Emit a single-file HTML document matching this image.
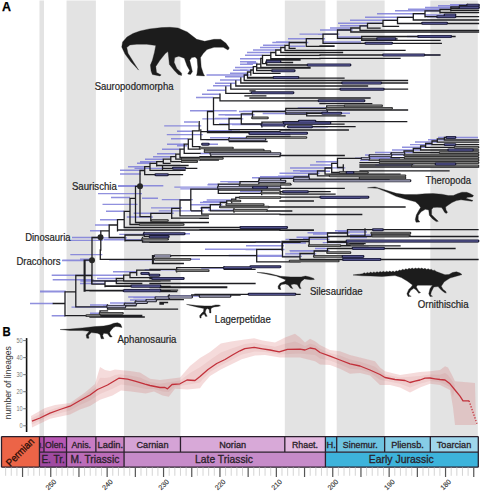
<!DOCTYPE html>
<html><head><meta charset="utf-8"><style>
html,body{margin:0;padding:0;background:#fff;width:480px;height:491px;overflow:hidden}
svg{display:block;font-family:"Liberation Sans",sans-serif}
</style></head><body>
<svg width="480" height="491" viewBox="0 0 480 491">
<rect width="480" height="491" fill="#fff"/>
<rect x="39.47" y="0.5" width="4.51" height="436" fill="#e3e3e3"/>
<rect x="66.54" y="0.5" width="29.33" height="436" fill="#e3e3e3"/>
<rect x="124.07" y="0.5" width="56.40" height="436" fill="#e3e3e3"/>
<rect x="284.81" y="0.5" width="40.61" height="436" fill="#e3e3e3"/>
<rect x="336.70" y="0.5" width="47.94" height="436" fill="#e3e3e3"/>
<rect x="430.32" y="0.5" width="47.48" height="436" fill="#e3e3e3"/>
<path d="M450.00 4.70H478.00M438.00 5.80H467.00M425.00 7.50H460.00M408.00 9.20H450.00M395.00 10.80H440.00M377.00 13.70H425.00M365.00 17.30H413.00M350.00 20.30H397.00M338.00 23.30H383.00M340.00 25.80H367.50M330.00 28.00H351.00M320.00 30.00H337.50M318.00 34.20H323.00M427.00 16.70H437.00M425.00 15.00H445.00M407.00 36.50H418.50M338.00 37.00H361.00M323.00 42.00H361.00M425.00 55.00H440.00M288.00 38.70H306.00M276.00 42.00H290.00M263.00 45.30H285.00M260.00 47.50H281.00M253.00 50.00H276.00M247.00 52.50H271.00M245.00 55.30H262.50M240.00 58.70H261.00M240.00 61.70H256.00M240.00 64.20H253.00M240.00 67.50H251.00M240.00 70.00H247.50M240.00 73.30H245.00M290.00 46.30H305.00M247.00 63.30H257.50M235.00 67.50H254.00M233.00 70.30H251.70M230.00 73.30H248.30M225.00 76.70H245.00M220.00 80.00H240.80M215.00 83.30H235.80M213.00 85.80H230.80M207.00 90.30H225.80M202.00 94.20H220.00M196.00 97.50H213.50M190.00 110.80H236.70M225.00 115.00H240.00M215.00 118.50H229.00M219.00 124.00H241.00M239.00 111.50H252.00M340.80 113.30H350.00M311.70 126.70H328.00M438.00 137.50H478.00M428.00 139.70H444.00M415.00 142.00H437.00M410.00 144.60H432.00M402.00 147.30H425.60M392.00 150.00H420.60M375.00 152.50H413.30M365.00 155.00H404.00M362.00 157.70H391.00M360.00 160.20H369.20M455.00 137.50H470.00M316.00 161.70H337.50M310.00 165.00H331.70M302.00 168.00H325.00M293.00 170.80H317.50M208.30 144.20H218.00M200.00 153.50H210.80M227.50 181.70H240.00M208.00 184.20H218.30M276.00 179.00H280.00M190.00 110.80H200.00M184.00 122.00H198.00M177.00 131.30H192.00M171.00 138.70H188.00M167.00 144.20H184.00M177.00 145.80H187.00M162.00 149.20H180.00M157.00 153.70H175.80M153.00 156.70H170.80M145.00 159.20H163.30M140.00 161.70H156.70M137.00 163.30H150.80M128.00 166.70H145.00M120.00 170.30H144.00M120.00 174.00H141.00M118.00 185.80H163.30M142.00 198.30H158.00M228.00 182.00H240.00M207.50 184.70H218.00M226.70 187.50H255.00M240.00 191.50H261.70M206.70 200.00H231.70M203.00 201.70H226.70M200.00 202.50H220.30M200.00 208.00H210.00M335.00 230.80H347.50M313.00 234.00H327.50M303.00 238.00H309.20M283.00 243.00H306.00M350.00 229.70H365.00M350.00 235.00H371.70M350.00 237.50H367.00M205.00 249.20H256.00M111.00 197.50H130.00M106.00 211.30H124.20M100.00 219.70H117.50M95.00 225.00H109.20M90.00 230.80H100.80M72.00 237.50H100.80M62.00 260.50H92.20M118.00 186.30H140.00M184.20 233.70H190.00M62.50 260.30H92.00M51.70 275.30H100.00M40.00 291.30H65.80M113.00 271.80H136.70M80.00 275.20H123.70M97.00 278.50H116.30M80.00 283.50H105.00M80.00 259.30H92.00M208.00 249.30H256.70M258.00 255.50H282.50M255.00 242.00H282.00M190.00 259.30H200.00M290.00 251.00H314.20M315.00 248.50H327.50M290.00 253.50H300.00M30.00 303.50H53.30M40.00 291.80H65.00M51.70 315.70H65.00M90.00 305.00H107.50M90.00 313.30H100.00M110.00 303.00H136.00M130.00 300.00H156.00M207.50 131.20H240.00M207.50 130.70H232.00M355.00 158.30H400.00M278.00 176.30H310.00M252.00 177.80H296.00M260.00 176.80H300.00M300.00 171.30H330.00M290.00 168.00H325.00M326.80 30.00H352.80M299.50 34.15H339.50M294.00 38.75H325.00M272.30 42.50H308.30M206.50 75.00H249.50M297.70 108.00H328.70M242.80 111.25H287.80M218.50 114.70H254.50M202.30 118.90H243.30M231.90 124.55H263.90M262.70 113.55H308.70M249.20 124.20H286.20M375.30 165.00H414.30M301.30 167.90H345.30M279.50 173.30H319.50M166.80 134.60H202.80M220.20 181.65H261.20M210.00 184.60H242.00M174.30 187.10H220.30M164.20 125.85H201.20M134.50 168.40H164.50M98.00 193.60H142.00M226.20 181.65H261.20M216.00 184.60H242.00M180.30 188.90H220.30M161.80 199.60H192.80M190.30 204.75H222.30M166.70 210.85H203.70M208.00 210.25H236.00M307.50 232.75H349.50M296.50 237.25H329.50M246.00 245.75H284.00M338.00 232.00H367.00M68.80 240.40H102.80M102.50 204.40H137.50M126.80 217.05H152.80M133.70 213.30H173.70M151.00 207.90H182.00M158.70 210.85H203.70M91.00 237.90H127.00M119.20 234.40H146.20M103.50 239.75H144.50M70.30 254.65H102.30M109.30 259.75H155.30M80.30 281.00H118.30M111.50 259.60H154.50M144.70 269.75H178.70M201.20 268.05H226.20M245.50 249.55H284.50M228.70 255.55H258.70M285.50 239.35H329.50M322.70 242.65H348.70M289.50 250.60H329.50M285.20 253.90H316.20M257.00 256.40H302.00M52.70 279.75H93.70M133.30 297.50H170.30M103.00 305.40H127.00M71.50 307.10H109.50M128.20 297.00H171.20M168.00 296.00H202.00M206.30 139.65H231.30M210.00 137.75H249.00" stroke="#7c7cd8" stroke-opacity="0.85" stroke-width="1.4" fill="none"/>
<path d="M467.50 6.80H478.50M459.50 5.50H467.50M450.80 7.00H459.50M450.80 8.70H478.50M450.80 10.30H478.50M440.00 9.50H450.80M440.00 12.50H478.50M425.00 10.80H440.00M425.00 16.70H478.50M413.30 13.70H425.00M413.30 20.00H478.50M397.50 17.30H413.30M397.50 23.50H478.50M383.00 20.30H397.50M383.00 26.30H398.50M367.50 23.30H383.00M367.50 28.20H380.00M360.00 25.80H367.50M360.00 30.40H478.50M350.80 28.00H360.00M350.80 32.00H478.50M337.50 30.00H350.80M337.50 38.30H361.70M361.70 36.50H455.00M361.70 38.80H397.00M361.70 40.30H440.00M323.00 34.20H337.50M323.00 43.30H441.30M320.00 45.80H334.00M320.00 50.30H405.00M320.00 52.50H342.50M320.00 55.00H440.00M320.00 58.30H400.00M306.30 38.70H323.00M306.30 46.30H334.00M289.20 42.50H306.30M289.20 48.30H295.00M285.00 45.30H289.20M285.00 50.30H320.00M280.80 47.50H285.00M280.80 52.50H320.00M275.80 50.00H280.80M275.80 55.30H320.00M270.80 52.50H275.80M270.80 58.70H320.00M262.50 55.30H270.80M262.50 63.70H266.70M266.70 60.00H300.00M266.70 65.00H308.00M260.80 58.30H262.50M260.80 67.50H310.00M256.70 64.20H260.80M256.70 70.50H272.50M253.30 66.70H256.70M253.30 73.30H280.00M250.80 70.00H253.30M247.50 72.00H250.80M247.50 77.50H274.00M244.20 75.00H247.50M265.80 62.50H292.50M257.50 68.00H310.00M247.50 78.20H344.00M244.20 80.50H407.50M240.80 83.00H407.50M235.80 86.00H367.50M230.80 89.20H407.50M250.00 90.80H255.00M225.80 93.30H286.70M245.00 95.80H265.80M250.00 98.00H370.00M220.00 100.80H364.00M213.50 97.80H220.00M207.50 111.50H213.50M320.00 103.70H371.70M326.70 110.00H407.50M213.50 124.60H229.00M286.30 108.30H326.70M326.70 105.80H345.00M285.80 114.20H306.70M252.50 111.50H286.30M229.00 118.50H241.30M241.30 113.80H252.50M241.30 124.00H261.90M261.90 122.20H290.00M229.00 129.70H290.00M207.50 132.50H249.70M286.00 108.30H326.70M326.70 108.00H390.80M306.70 113.30H340.80M306.70 115.80H345.00M283.00 121.70H406.70M284.20 124.20H344.00M288.30 126.70H355.00M280.00 130.00H348.30M444.40 137.50H446.90M444.40 140.00H478.50M437.30 138.80H444.40M437.30 142.20H478.50M432.00 141.00H437.30M432.00 144.60H478.50M425.60 143.50H432.00M425.60 147.30H478.50M420.60 146.00H425.60M420.60 150.00H478.50M413.30 148.50H420.60M413.30 152.50H478.50M404.00 151.00H413.30M404.00 155.00H478.50M391.00 153.50H404.00M391.00 157.70H478.50M369.20 156.00H391.00M369.20 160.20H478.50M360.00 162.70H478.50M360.00 165.00H412.30M360.00 167.00H478.50M360.00 170.80H449.00M360.00 180.30H389.00M280.00 155.50H344.20M337.50 158.30H369.20M331.70 163.30H337.50M337.50 167.50H343.30M325.00 168.00H331.70M317.50 170.80H325.00M308.70 174.20H317.50M294.20 177.00H308.70M331.70 172.50H367.50M325.00 174.20H400.00M317.50 175.80H405.00M308.70 179.20H389.00M280.00 182.50H285.00M280.00 184.70H291.00M280.00 188.30H344.20M280.00 191.70H330.00M280.00 194.20H335.00M280.00 197.20H368.00M200.80 131.70H280.00M200.00 156.70H280.00M200.00 160.00H218.30M259.20 178.30H294.20M240.00 181.70H259.20M218.30 184.20H240.00M218.30 190.00H280.00M192.50 130.80H199.20M192.50 146.70H200.00M188.30 139.20H192.50M188.30 149.20H200.00M184.20 144.20H188.30M184.20 153.30H200.00M180.00 149.20H184.20M180.00 157.50H200.00M175.80 154.20H180.00M175.80 159.20H200.00M170.80 156.70H175.80M170.80 161.70H196.70M163.30 159.20H170.80M163.30 163.30H170.00M156.70 161.70H163.30M156.70 165.50H188.00M150.00 163.30H156.70M150.00 170.30H185.00M144.70 166.70H150.00M144.70 174.70H182.50M162.50 168.30H196.70M140.00 170.50H144.70M218.30 193.30H261.70M190.80 189.20H218.30M235.80 197.50H280.00M231.70 199.20H235.80M226.70 200.80H231.70M220.30 202.50H226.70M210.30 204.70H220.30M201.70 207.50H210.30M210.30 210.80H234.00M201.70 214.20H280.00M200.00 215.80H207.50M200.00 218.30H208.30M200.00 222.50H208.30M200.00 227.50H280.00M200.00 229.70H280.00M280.00 201.00H313.30M268.30 207.00H405.00M266.70 211.00H291.70M280.00 214.50H361.70M280.00 230.30H313.30M347.50 229.70H478.00M347.50 235.80H365.00M327.50 233.00H347.50M327.50 241.50H478.00M309.20 237.50H327.50M309.20 245.80H400.00M282.00 241.50H309.20M371.70 235.00H410.00M350.00 243.70H365.00M100.80 230.80H109.20M109.20 225.00H117.50M109.20 237.50H125.00M117.50 219.70H124.20M117.50 230.00H313.30M124.20 211.30H130.00M124.20 227.50H280.00M130.00 198.30H135.50M130.00 224.50H183.30M135.50 186.30H140.00M135.50 222.50H208.30M140.00 216.70H150.80M150.80 213.30H171.70M150.80 220.50H167.50M171.70 208.30H180.00M171.70 218.10H208.30M180.00 200.00H190.80M180.00 215.80H208.30M191.70 210.80H201.70M125.00 235.00H144.20M125.00 240.50H142.50M144.20 236.30H167.50M142.50 242.00H280.00M92.50 237.50H100.80M100.30 259.30H153.30M153.30 256.00H170.00M153.30 263.50H175.00M85.00 260.20H92.00M92.00 284.20H105.00M85.00 290.50H125.00M136.70 270.20H160.00M130.00 272.70H136.70M130.00 277.70H160.00M123.70 275.20H130.00M123.70 281.00H160.00M116.30 278.50H123.70M116.30 283.50H141.70M105.00 281.00H116.30M105.00 286.00H160.00M150.00 239.30H168.30M150.00 242.30H255.00M152.50 255.70H256.70M152.50 263.50H183.30M176.70 267.70H224.20M150.00 269.30H176.70M224.20 269.30H255.00M150.00 278.50H183.30M150.00 283.50H255.00M150.00 286.80H226.70M150.00 290.20H177.50M195.00 294.30H300.00M256.70 249.30H282.50M256.70 261.80H300.00M282.50 242.30H300.00M282.50 256.80H300.00M327.50 236.50H478.00M327.50 242.30H346.70M309.20 237.70H327.50M309.20 245.70H350.00M346.70 241.00H478.00M346.70 244.00H363.30M290.00 239.70H309.20M327.50 248.50H455.00M327.50 252.70H350.00M314.20 251.00H327.50M314.20 256.30H343.30M300.00 253.50H314.20M300.00 259.50H478.00M290.00 261.00H338.30M75.80 275.50H92.00M75.80 306.80H107.50M65.00 291.80H75.80M65.00 315.70H100.00M53.30 303.50H65.00M92.50 280.80H170.00M105.00 286.30H170.00M90.00 290.80H170.00M168.30 297.50H169.20M155.80 299.50H168.30M146.70 301.70H155.80M135.80 303.30H146.70M125.00 305.80H135.80M107.50 307.50H125.00M107.50 309.20H177.50M100.00 310.80H107.50M90.00 315.50H141.70M90.00 317.00H144.20M160.00 283.70H240.00M160.00 287.50H226.70M160.00 291.70H176.70M191.70 295.00H240.00M160.00 299.70H183.30M160.00 302.50H167.50M160.00 304.00H163.30M200.80 139.60H229.30M229.30 141.50H267.00M247.00 136.50H290.00M467.50 4.50V7.00M459.50 5.50V8.50M450.80 7.00V10.50M440.00 9.50V12.80M425.00 10.80V16.80M413.30 13.70V20.00M397.50 17.30V23.50M383.00 20.30V26.30M367.50 23.30V28.20M360.00 25.80V30.40M350.80 28.00V32.00M337.50 30.00V38.30M323.00 34.20V43.30M361.70 36.50V40.30M306.30 38.70V46.30M289.20 42.50V48.30M285.00 45.30V50.30M280.80 47.50V52.50M275.80 50.00V55.30M270.80 52.50V58.70M262.50 55.30V63.70M266.70 60.00V65.00M260.80 58.30V67.50M256.70 64.20V70.50M253.30 66.70V73.30M250.80 70.00V75.00M247.50 72.00V78.00M244.20 75.00V80.00M240.80 78.00V83.00M235.80 81.00V86.00M230.80 84.00V89.20M225.80 87.00V93.30M220.00 94.20V100.80M213.50 97.80V124.60M207.50 111.50V132.50M326.70 106.00V110.00M285.80 108.30V114.20M252.50 111.50V117.90M229.00 118.50V129.70M241.30 113.80V124.00M261.90 122.20V126.90M306.70 111.30V115.80M284.20 121.70V126.70M444.40 137.50V140.00M437.30 138.80V142.20M432.00 141.00V144.60M425.60 143.50V147.30M420.60 146.00V150.00M413.30 148.50V152.50M404.00 151.00V155.00M391.00 153.50V157.70M369.20 156.00V160.20M412.30 163.50V166.50M337.50 158.30V167.50M343.30 165.00V170.80M331.70 163.30V172.50M325.00 168.00V174.20M317.50 170.80V175.80M308.70 174.20V179.20M294.20 177.00V180.80M200.80 130.00V139.20M210.80 151.70V156.70M259.20 178.30V185.00M240.00 181.70V187.50M218.30 184.20V190.00M199.20 121.70V130.00M192.50 130.80V146.70M188.30 139.20V149.20M184.20 144.20V153.30M180.00 149.20V157.50M175.80 154.20V159.20M170.80 156.70V161.70M163.30 159.20V163.30M156.70 161.70V165.80M150.00 163.30V170.30M144.70 166.70V174.70M162.50 166.50V170.30M140.00 170.50V216.70M259.20 178.30V185.00M240.00 181.70V187.50M218.30 184.50V193.30M190.80 189.20V210.00M261.70 191.50V194.50M235.80 197.50V200.80M231.70 199.20V202.50M226.70 200.80V205.00M220.30 202.50V207.00M210.30 204.70V210.80M201.70 207.50V214.20M234.00 208.50V212.00M347.50 229.70V235.80M327.50 233.00V241.50M309.20 237.50V245.80M282.00 241.50V250.00M365.00 229.00V235.00M371.70 233.00V236.00M100.80 230.80V250.00M109.20 225.00V237.50M117.50 219.70V230.80M124.20 211.30V227.50M130.00 198.30V224.20M135.50 186.30V222.50M150.80 213.30V220.80M171.70 208.30V218.30M180.00 200.00V215.80M201.70 207.50V214.20M125.00 235.00V240.80M144.20 232.50V236.30M142.50 237.50V242.00M100.30 250.00V259.30M153.30 256.00V263.50M92.00 237.30V284.20M85.00 260.20V291.00M136.70 270.20V275.20M130.00 272.70V277.70M123.70 275.20V281.00M116.30 278.50V283.50M105.00 281.00V286.00M152.50 255.70V263.50M176.70 267.70V271.80M224.20 266.80V269.30M282.50 242.30V256.80M256.70 249.30V261.80M327.50 236.00V242.70M309.20 237.70V246.00M346.70 241.00V244.30M327.50 248.50V252.70M314.20 251.00V256.80M300.00 253.50V259.30M75.80 275.50V306.80M84.20 260.20V291.00M91.70 276.00V283.50M65.00 291.80V315.80M105.00 281.70V286.70M168.30 295.80V299.20M155.80 297.50V301.70M146.70 299.70V303.30M135.80 300.80V305.80M125.00 303.30V307.50M107.50 305.00V309.20M100.00 310.80V315.80M169.20 295.00V299.00M200.00 295.00V297.00M229.30 137.80V141.50M247.00 136.50V139.00" stroke="#1e1e22" stroke-width="1.3" stroke-linecap="square" fill="none"/>
<path d="M345.00 105.80H381.70M326.70 108.30H391.70M252.50 117.90H267.50M360.00 172.50H367.50M360.00 178.00H405.00M412.30 165.80H478.00M259.20 184.20H290.00M200.00 148.00H232.50M205.00 150.00H263.30M205.00 151.70H270.00M200.00 158.30H222.50M240.00 185.20H280.00M182.00 159.20H200.00M182.00 161.70H196.70M260.00 183.00H280.00M261.70 193.00H280.00M240.00 197.50H280.00M226.70 204.70H263.30M220.30 207.00H268.30M234.00 210.30H266.70M231.70 201.00H240.00M371.70 233.00H410.00M140.00 224.50H183.30M142.50 239.20H167.50M152.00 220.50H167.50M155.00 259.30H190.00M176.70 270.70H208.30M309.20 245.70H340.00M327.50 252.70H350.00M314.20 256.30H343.30M290.00 261.00H338.30M372.50 236.00H408.70M86.70 315.70H100.00M100.00 313.30H122.50M247.00 137.50H306.00M405.00 155.00H478.00M405.00 157.70H478.00M380.00 160.20H478.00M380.00 162.70H478.00M440.00 152.50H478.00M455.00 147.30H478.00M340.00 172.50H367.50M330.00 175.80H405.00" stroke="#333" stroke-width="2.7" stroke-linecap="round" fill="none"/>
<path d="M345.00 105.80H381.70M326.70 108.30H391.70M252.50 117.90H267.50M360.00 172.50H367.50M360.00 178.00H405.00M412.30 165.80H478.00M259.20 184.20H290.00M200.00 148.00H232.50M205.00 150.00H263.30M205.00 151.70H270.00M200.00 158.30H222.50M240.00 185.20H280.00M182.00 159.20H200.00M182.00 161.70H196.70M260.00 183.00H280.00M261.70 193.00H280.00M240.00 197.50H280.00M226.70 204.70H263.30M220.30 207.00H268.30M234.00 210.30H266.70M231.70 201.00H240.00M371.70 233.00H410.00M140.00 224.50H183.30M142.50 239.20H167.50M152.00 220.50H167.50M155.00 259.30H190.00M176.70 270.70H208.30M309.20 245.70H340.00M327.50 252.70H350.00M314.20 256.30H343.30M290.00 261.00H338.30M372.50 236.00H408.70M86.70 315.70H100.00M100.00 313.30H122.50M247.00 137.50H306.00M405.00 155.00H478.00M405.00 157.70H478.00M380.00 160.20H478.00M380.00 162.70H478.00M440.00 152.50H478.00M455.00 147.30H478.00M340.00 172.50H367.50M330.00 175.80H405.00" stroke="#7a7a7a" stroke-width="1.2" fill="none"/>
<path d="M294.20 180.80H410.00M259.20 181.30H285.00M210.80 153.80H280.00M218.30 187.50H280.00M260.00 179.50H280.00M286.00 111.30H326.70M392.00 153.50H404.00M370.00 155.50H391.00M362.00 158.50H369.00M155.00 256.00H170.00M107.50 306.50H125.00M200.00 296.20H230.00M169.20 297.00H191.70M229.30 139.50H265.00M155.80 298.00H168.30M146.70 300.50H155.80M135.80 302.30H146.70M125.00 304.30H135.80M294.20 178.50H308.70" stroke="#2a2a35" stroke-width="2.9" stroke-linecap="round" fill="none"/>
<path d="M294.20 180.80H410.00M259.20 181.30H285.00M210.80 153.80H280.00M218.30 187.50H280.00M260.00 179.50H280.00M286.00 111.30H326.70M392.00 153.50H404.00M370.00 155.50H391.00M362.00 158.50H369.00M155.00 256.00H170.00M107.50 306.50H125.00M200.00 296.20H230.00M169.20 297.00H191.70M229.30 139.50H265.00M155.80 298.00H168.30M146.70 300.50H155.80M135.80 302.30H146.70M125.00 304.30H135.80M294.20 178.50H308.70" stroke="#a9a9c4" stroke-width="1.3" fill="none"/>
<path d="M467.50 5.20H478.50M460.00 7.50H478.50M437.50 16.70H455.00M445.00 15.00H455.00M422.50 23.30H446.70M418.50 36.50H450.80M377.50 38.80H395.00M365.80 43.30H391.70M383.50 55.00H424.00M320.00 65.00H350.00M308.00 65.00H350.00M272.50 70.80H294.20M274.00 77.50H298.00M267.00 61.50H280.00M342.50 83.00H380.80M340.80 89.20H383.30M319.00 100.80H364.00M322.50 113.30H340.80M261.90 125.00H284.40M249.70 133.50H290.00M299.20 121.30H315.00M284.20 123.00H330.00M288.30 126.70H311.70M280.00 133.30H306.70M446.90 137.50H455.00M445.00 144.60H455.00M448.70 150.00H472.50M436.00 164.00H455.00M283.30 191.70H307.50M321.70 197.50H360.00M347.00 172.50H353.00M250.00 133.00H280.00M202.50 144.20H208.30M173.30 168.30H185.00M155.80 174.70H167.50M253.30 187.50H266.70M240.80 227.50H280.00M280.00 227.50H286.70M320.80 197.20H368.00M373.30 229.70H382.50M347.00 241.00H478.00M353.00 248.30H368.00M144.20 233.70H184.20M141.70 273.50H148.30M131.70 286.00H160.00M125.00 290.50H160.00M150.00 236.80H168.30M224.20 267.70H250.80M250.80 266.80H280.00M152.50 278.50H183.30M150.00 290.20H160.00M249.00 294.30H295.00M150.00 275.20H159.00M428.70 241.00H478.00M353.30 248.50H383.70M343.30 259.50H380.00M343.00 256.50H363.00M131.70 286.30H160.00M124.00 290.80H160.00M252.00 92.80H293.00" stroke="#1c1c38" stroke-width="2.9" stroke-linecap="round" fill="none"/>
<path d="M467.50 5.20H478.50M460.00 7.50H478.50M437.50 16.70H455.00M445.00 15.00H455.00M422.50 23.30H446.70M418.50 36.50H450.80M377.50 38.80H395.00M365.80 43.30H391.70M383.50 55.00H424.00M320.00 65.00H350.00M308.00 65.00H350.00M272.50 70.80H294.20M274.00 77.50H298.00M267.00 61.50H280.00M342.50 83.00H380.80M340.80 89.20H383.30M319.00 100.80H364.00M322.50 113.30H340.80M261.90 125.00H284.40M249.70 133.50H290.00M299.20 121.30H315.00M284.20 123.00H330.00M288.30 126.70H311.70M280.00 133.30H306.70M446.90 137.50H455.00M445.00 144.60H455.00M448.70 150.00H472.50M436.00 164.00H455.00M283.30 191.70H307.50M321.70 197.50H360.00M347.00 172.50H353.00M250.00 133.00H280.00M202.50 144.20H208.30M173.30 168.30H185.00M155.80 174.70H167.50M253.30 187.50H266.70M240.80 227.50H280.00M280.00 227.50H286.70M320.80 197.20H368.00M373.30 229.70H382.50M347.00 241.00H478.00M353.00 248.30H368.00M144.20 233.70H184.20M141.70 273.50H148.30M131.70 286.00H160.00M125.00 290.50H160.00M150.00 236.80H168.30M224.20 267.70H250.80M250.80 266.80H280.00M152.50 278.50H183.30M150.00 290.20H160.00M249.00 294.30H295.00M150.00 275.20H159.00M428.70 241.00H478.00M353.30 248.50H383.70M343.30 259.50H380.00M343.00 256.50H363.00M131.70 286.30H160.00M124.00 290.80H160.00M252.00 92.80H293.00" stroke="#50508a" stroke-width="1.3" fill="none"/>
<g fill="#262626"><circle cx="140" cy="186.3" r="3"/><circle cx="100.5" cy="237.3" r="3"/><circle cx="92" cy="260.2" r="3"/></g>
<rect x="1.50" y="436.60" width="37.97" height="30.60" fill="#ec6447"/>
<rect x="39.47" y="436.60" width="4.51" height="15.60" fill="#b04ca6"/>
<rect x="43.98" y="436.60" width="22.56" height="15.60" fill="#b856b4"/>
<rect x="66.54" y="436.60" width="29.33" height="15.60" fill="#c77cc4"/>
<rect x="95.87" y="436.60" width="28.20" height="15.60" fill="#cc86c4"/>
<rect x="124.07" y="436.60" width="56.40" height="15.60" fill="#d5a3d6"/>
<rect x="180.47" y="436.60" width="104.34" height="15.60" fill="#d8a9d8"/>
<rect x="284.81" y="436.60" width="40.61" height="15.60" fill="#e3bae0"/>
<rect x="325.42" y="436.60" width="11.28" height="15.60" fill="#5cbde0"/>
<rect x="336.70" y="436.60" width="47.94" height="15.60" fill="#6ec3e0"/>
<rect x="384.64" y="436.60" width="45.68" height="15.60" fill="#86cde6"/>
<rect x="430.32" y="436.60" width="47.98" height="15.60" fill="#9fd6eb"/>
<rect x="39.47" y="452.20" width="27.07" height="15.00" fill="#a04aa2"/>
<rect x="66.54" y="452.20" width="57.53" height="15.00" fill="#bb6cb9"/>
<rect x="124.07" y="452.20" width="201.35" height="15.00" fill="#c68bc9"/>
<rect x="325.42" y="452.20" width="152.88" height="15.00" fill="#3db3db"/>
<path d="M1.5 436.6H478.3M1.5 467.2H478.3M39.47 452.2H478.3M1.5 436.6V467.2M478.3 436.6V467.2M39.47 436.6V452.2M43.98 436.6V452.2M66.54 436.6V452.2M95.87 436.6V452.2M124.07 436.6V452.2M180.47 436.6V452.2M284.81 436.6V452.2M325.42 436.6V452.2M336.70 436.6V452.2M384.64 436.6V452.2M430.32 436.6V452.2M39.47 452.2V467.2M66.54 452.2V467.2M124.07 452.2V467.2M325.42 452.2V467.2" stroke="#2a1f2c" stroke-width="1.3" fill="none"/>
<text x="39.50" y="447.60" font-size="7.5" fill="#2a1f2a" textLength="3.50" lengthAdjust="spacingAndGlyphs" stroke="#2a1f2a" stroke-width="0.3">I.</text>
<text x="45.10" y="447.60" font-size="8.6" fill="#2a1f2a" textLength="20.70" lengthAdjust="spacingAndGlyphs" stroke="#2a1f2a" stroke-width="0.3">Olen.</text>
<text x="71.40" y="447.60" font-size="8.6" fill="#2a1f2a" textLength="19.70" lengthAdjust="spacingAndGlyphs" stroke="#2a1f2a" stroke-width="0.3">Anis.</text>
<text x="97.60" y="447.60" font-size="8.6" fill="#2a1f2a" textLength="25.40" lengthAdjust="spacingAndGlyphs" stroke="#2a1f2a" stroke-width="0.3">Ladin.</text>
<text x="136.50" y="447.60" font-size="8.6" fill="#2a1f2a" textLength="32.00" lengthAdjust="spacingAndGlyphs" stroke="#2a1f2a" stroke-width="0.3">Carnian</text>
<text x="219.20" y="447.60" font-size="8.6" fill="#2a1f2a" textLength="26.90" lengthAdjust="spacingAndGlyphs" stroke="#2a1f2a" stroke-width="0.3">Norian</text>
<text x="292.00" y="447.60" font-size="8.6" fill="#2a1f2a" textLength="26.00" lengthAdjust="spacingAndGlyphs" stroke="#2a1f2a" stroke-width="0.3">Rhaet.</text>
<text x="326.50" y="447.60" font-size="8.6" fill="#2a1f2a" textLength="9.30" lengthAdjust="spacingAndGlyphs" stroke="#2a1f2a" stroke-width="0.3">H.</text>
<text x="342.80" y="447.60" font-size="8.6" fill="#2a1f2a" textLength="34.90" lengthAdjust="spacingAndGlyphs" stroke="#2a1f2a" stroke-width="0.3">Sinemur.</text>
<text x="391.20" y="447.60" font-size="8.6" fill="#2a1f2a" textLength="32.60" lengthAdjust="spacingAndGlyphs" stroke="#2a1f2a" stroke-width="0.3">Pliensb.</text>
<text x="436.80" y="447.60" font-size="8.6" fill="#2a1f2a" textLength="34.40" lengthAdjust="spacingAndGlyphs" stroke="#2a1f2a" stroke-width="0.3">Toarcian</text>
<text x="41.40" y="463.20" font-size="10.4" fill="#2a1f2a" textLength="23.50" lengthAdjust="spacingAndGlyphs" stroke="#2a1f2a" stroke-width="0.3">E. Tr.</text>
<text x="70.50" y="463.20" font-size="10.4" fill="#2a1f2a" textLength="48.80" lengthAdjust="spacingAndGlyphs" stroke="#2a1f2a" stroke-width="0.3">M. Triassic</text>
<text x="195.10" y="463.20" font-size="10.4" fill="#2a1f2a" textLength="57.90" lengthAdjust="spacingAndGlyphs" stroke="#2a1f2a" stroke-width="0.3">Late Triassic</text>
<text x="368.80" y="463.20" font-size="10.4" fill="#2a1f2a" textLength="65.00" lengthAdjust="spacingAndGlyphs" stroke="#2a1f2a" stroke-width="0.3">Early Jurassic</text>
<text x="0" y="0" font-size="10.4" text-anchor="middle" fill="#2a0c06" stroke="#2a0c06" stroke-width="0.3" textLength="35" lengthAdjust="spacingAndGlyphs" transform="translate(22.6 454.6) rotate(-45)">Permian</text>
<path d="M5.63 467.5V475.8M11.27 467.5V475.8M16.91 467.5V475.8M28.19 467.5V475.8M33.83 467.5V475.8M39.47 467.5V475.8M45.11 467.5V475.8M56.39 467.5V475.8M62.03 467.5V475.8M67.67 467.5V475.8M73.31 467.5V475.8M84.59 467.5V475.8M90.23 467.5V475.8M95.87 467.5V475.8M101.51 467.5V475.8M112.79 467.5V475.8M118.43 467.5V475.8M124.07 467.5V475.8M129.71 467.5V475.8M140.99 467.5V475.8M146.63 467.5V475.8M152.27 467.5V475.8M157.91 467.5V475.8M169.19 467.5V475.8M174.83 467.5V475.8M180.47 467.5V475.8M186.11 467.5V475.8M197.39 467.5V475.8M203.03 467.5V475.8M208.67 467.5V475.8M214.31 467.5V475.8M225.59 467.5V475.8M231.23 467.5V475.8M236.87 467.5V475.8M242.51 467.5V475.8M253.79 467.5V475.8M259.43 467.5V475.8M265.07 467.5V475.8M270.71 467.5V475.8M281.99 467.5V475.8M287.63 467.5V475.8M293.27 467.5V475.8M298.91 467.5V475.8M310.19 467.5V475.8M315.83 467.5V475.8M321.47 467.5V475.8M327.11 467.5V475.8M338.39 467.5V475.8M344.03 467.5V475.8M349.67 467.5V475.8M355.31 467.5V475.8M366.59 467.5V475.8M372.23 467.5V475.8M377.87 467.5V475.8M383.51 467.5V475.8M394.79 467.5V475.8M400.43 467.5V475.8M406.07 467.5V475.8M411.71 467.5V475.8M422.99 467.5V475.8M428.63 467.5V475.8M434.27 467.5V475.8M439.91 467.5V475.8M451.19 467.5V475.8M456.83 467.5V475.8M462.47 467.5V475.8M468.11 467.5V475.8" stroke="#cfcfcf" stroke-width="0.9"/>
<path d="M22.55 467.5V477M50.75 467.5V477M78.95 467.5V477M107.15 467.5V477M135.35 467.5V477M163.55 467.5V477M191.75 467.5V477M219.95 467.5V477M248.15 467.5V477M276.35 467.5V477M304.55 467.5V477M332.75 467.5V477M360.95 467.5V477M389.15 467.5V477M417.35 467.5V477M445.55 467.5V477M473.75 467.5V477" stroke="#555" stroke-width="1.2"/>
<text x="0" y="0" font-size="7" text-anchor="middle" fill="#333" stroke="#333" stroke-width="0.15" transform="translate(51.05 484.8) rotate(-45)" dy="2.3">250</text>
<text x="0" y="0" font-size="7" text-anchor="middle" fill="#333" stroke="#333" stroke-width="0.15" transform="translate(107.45 484.8) rotate(-45)" dy="2.3">240</text>
<text x="0" y="0" font-size="7" text-anchor="middle" fill="#333" stroke="#333" stroke-width="0.15" transform="translate(163.85 484.8) rotate(-45)" dy="2.3">230</text>
<text x="0" y="0" font-size="7" text-anchor="middle" fill="#333" stroke="#333" stroke-width="0.15" transform="translate(220.25 484.8) rotate(-45)" dy="2.3">220</text>
<text x="0" y="0" font-size="7" text-anchor="middle" fill="#333" stroke="#333" stroke-width="0.15" transform="translate(276.65 484.8) rotate(-45)" dy="2.3">210</text>
<text x="0" y="0" font-size="7" text-anchor="middle" fill="#333" stroke="#333" stroke-width="0.15" transform="translate(333.05 484.8) rotate(-45)" dy="2.3">200</text>
<text x="0" y="0" font-size="7" text-anchor="middle" fill="#333" stroke="#333" stroke-width="0.15" transform="translate(389.45 484.8) rotate(-45)" dy="2.3">190</text>
<text x="0" y="0" font-size="7" text-anchor="middle" fill="#333" stroke="#333" stroke-width="0.15" transform="translate(445.85 484.8) rotate(-45)" dy="2.3">180</text>
<path d="M31.0 416.0 L45.0 408.0 L55.0 405.0 L70.0 403.0 L85.0 392.5 L95.0 384.0 L100.0 367.0 L105.0 370.0 L110.0 371.0 L115.0 369.5 L120.0 370.0 L130.0 371.0 L140.0 372.5 L150.0 378.8 L160.0 380.0 L180.0 377.5 L190.0 366.0 L200.0 358.0 L210.0 352.0 L220.8 343.5 L231.0 341.5 L244.8 339.4 L254.2 338.3 L262.5 340.4 L275.0 342.5 L285.0 337.5 L295.0 333.8 L300.0 337.5 L305.0 342.5 L310.0 338.8 L315.0 341.2 L320.0 345.0 L330.0 350.0 L340.0 351.2 L350.0 355.0 L360.0 357.5 L370.0 360.0 L375.0 361.2 L380.0 367.5 L385.0 371.2 L400.0 375.0 L420.0 372.0 L430.0 371.2 L440.0 370.0 L445.0 366.2 L448.0 367.5 L452.0 375.0 L455.0 381.2 L470.0 382.5 L475.0 383.0 L476.0 425.0 L476.0 425.0 L455.0 425.0 L453.0 407.5 L450.0 390.0 L440.0 385.0 L430.0 383.8 L420.0 387.5 L410.0 392.5 L400.0 387.5 L390.0 385.0 L380.0 385.0 L370.0 375.5 L360.0 373.0 L350.0 373.8 L340.0 368.8 L330.0 365.0 L320.0 364.5 L315.0 361.2 L300.0 357.5 L280.0 357.5 L265.0 355.0 L255.0 355.5 L241.7 359.2 L230.0 365.0 L220.8 369.6 L210.0 376.0 L203.0 384.0 L200.0 388.3 L187.5 389.4 L175.0 388.8 L168.8 396.7 L162.5 395.6 L154.0 391.5 L145.8 393.5 L131.0 391.5 L121.0 390.4 L112.5 395.6 L100.0 399.8 L90.0 406.0 L80.0 409.5 L70.0 414.5 L50.0 418.8 L32.0 427.5Z" fill="rgba(215,105,105,0.24)"/>
<path d="M31.0 418.6 L45.0 411.8 L55.0 408.2 L70.0 404.6 L85.0 395.1 L95.0 387.7 L100.0 377.7 L105.0 378.1 L110.0 377.2 L115.0 375.0 L120.0 374.2 L130.0 375.5 L140.0 377.6 L150.0 382.1 L160.0 383.8 L180.0 380.6 L190.0 373.1 L200.0 367.2 L210.0 360.1 L220.8 352.5 L231.0 348.7 L244.8 344.0 L254.2 342.8 L262.5 344.6 L275.0 346.8 L285.0 343.8 L295.0 341.5 L300.0 343.4 L305.0 346.2 L310.0 343.4 L315.0 345.0 L320.0 348.8 L330.0 353.1 L340.0 355.6 L350.0 359.4 L360.0 361.8 L370.0 365.0 L375.0 366.8 L380.0 371.0 L385.0 374.4 L400.0 377.5 L420.0 376.0 L430.0 374.6 L440.0 374.8 L445.0 373.1 L448.0 374.9 L452.0 380.6 L455.0 385.6 L453.0 397.5 L450.0 386.9 L440.0 382.2 L430.0 380.9 L420.0 383.8 L410.0 387.5 L400.0 383.8 L390.0 381.8 L380.0 379.8 L370.0 372.8 L360.0 369.5 L350.0 368.8 L340.0 364.4 L330.0 360.6 L320.0 358.5 L315.0 355.0 L300.0 353.4 L280.0 354.6 L265.0 352.1 L255.0 351.5 L241.7 354.6 L230.0 360.7 L220.8 365.6 L210.0 372.1 L203.0 378.9 L200.0 382.4 L187.5 384.7 L175.0 386.5 L168.8 392.1 L162.5 391.6 L154.0 388.9 L145.8 389.0 L131.0 385.8 L121.0 384.5 L112.5 388.8 L100.0 394.1 L90.0 400.5 L80.0 405.0 L70.0 410.4 L50.0 416.0 L32.0 424.4Z" fill="rgba(190,90,90,0.10)"/>
<path d="M32.0 421.2 L40.0 418.0 L50.0 413.2 L60.0 409.5 L70.0 406.2 L80.0 400.5 L90.0 395.0 L97.5 389.5 L107.5 385.0 L112.5 382.0 L118.8 378.2 L127.5 379.2 L135.0 381.2 L145.0 384.2 L150.0 385.5 L160.0 387.5 L165.0 387.5 L167.5 388.8 L172.0 384.5 L180.0 383.8 L187.0 380.0 L195.0 380.5 L200.0 376.5 L208.0 369.5 L216.7 363.5 L225.0 359.5 L233.3 354.5 L240.0 350.8 L244.8 348.6 L254.2 347.3 L262.5 348.8 L270.0 350.0 L279.2 351.9 L287.5 349.4 L300.0 349.2 L305.0 350.0 L310.0 348.0 L315.0 348.8 L320.0 352.5 L330.0 356.2 L340.0 360.0 L350.0 363.8 L360.0 366.0 L370.0 370.0 L380.0 374.5 L385.0 377.5 L395.0 379.5 L405.0 380.5 L410.0 382.5 L415.0 381.2 L420.0 380.0 L425.0 378.2 L430.0 378.0 L435.0 378.8 L440.0 379.5 L445.0 380.0 L450.0 383.8 L455.0 390.0 L460.0 396.2 L463.0 400.8 L469.0 400.8" fill="none" stroke="#c2303a" stroke-width="1.3" stroke-linejoin="round"/>
<path d="M469 400.75L477 423.75" fill="none" stroke="#c2303a" stroke-width="1.3" stroke-dasharray="1.3 1.6"/>
<path d="M26.6 338.1V432" stroke="#111" stroke-width="1.6"/>
<path d="M23.2 425.80H26.6M23.2 408.76H26.6M23.2 391.72H26.6M23.2 374.68H26.6M23.2 357.64H26.6M23.2 340.60H26.6" stroke="#555" stroke-width="0.8"/>
<text x="19.50" y="428.10" font-size="6.5" fill="#7a7a7a" textLength="3.1" lengthAdjust="spacingAndGlyphs">0</text>
<text x="16.40" y="411.06" font-size="6.5" fill="#7a7a7a" textLength="6.2" lengthAdjust="spacingAndGlyphs">10</text>
<text x="16.40" y="394.02" font-size="6.5" fill="#7a7a7a" textLength="6.2" lengthAdjust="spacingAndGlyphs">20</text>
<text x="16.40" y="376.98" font-size="6.5" fill="#7a7a7a" textLength="6.2" lengthAdjust="spacingAndGlyphs">30</text>
<text x="16.40" y="359.94" font-size="6.5" fill="#7a7a7a" textLength="6.2" lengthAdjust="spacingAndGlyphs">40</text>
<text x="16.40" y="342.90" font-size="6.5" fill="#7a7a7a" textLength="6.2" lengthAdjust="spacingAndGlyphs">50</text>
<text x="0" y="0" font-size="8.6" text-anchor="middle" fill="#333" transform="translate(10.9 382.7) rotate(-90)">number of lineages</text>
<text x="1.90" y="10.80" font-size="13.3" text-anchor="start" fill="#000" font-weight="bold" stroke="#000" stroke-width="0.25" textLength="9" lengthAdjust="spacingAndGlyphs">A</text>
<text x="2.50" y="335.80" font-size="13.5" text-anchor="start" fill="#000" font-weight="bold" stroke="#000" stroke-width="0.25" textLength="8.2" lengthAdjust="spacingAndGlyphs">B</text>
<text x="94.65" y="90.10" font-size="10.3" fill="#1f1f1f" stroke="#1f1f1f" stroke-width="0.2" textLength="78.85" lengthAdjust="spacingAndGlyphs">Sauropodomorpha</text>
<text x="71.90" y="189.50" font-size="10.3" fill="#1f1f1f" stroke="#1f1f1f" stroke-width="0.2" textLength="44.95" lengthAdjust="spacingAndGlyphs">Saurischia</text>
<text x="25.15" y="240.90" font-size="10.3" fill="#1f1f1f" stroke="#1f1f1f" stroke-width="0.2" textLength="45.45" lengthAdjust="spacingAndGlyphs">Dinosauria</text>
<text x="16.40" y="264.50" font-size="10.3" fill="#1f1f1f" stroke="#1f1f1f" stroke-width="0.2" textLength="44.20" lengthAdjust="spacingAndGlyphs">Dracohors</text>
<text x="425.40" y="184.10" font-size="10.3" fill="#1f1f1f" stroke="#1f1f1f" stroke-width="0.2" textLength="45.70" lengthAdjust="spacingAndGlyphs">Theropoda</text>
<text x="309.90" y="294.50" font-size="10.3" fill="#1f1f1f" stroke="#1f1f1f" stroke-width="0.2" textLength="52.70" lengthAdjust="spacingAndGlyphs">Silesauridae</text>
<text x="417.70" y="307.50" font-size="10.3" fill="#1f1f1f" stroke="#1f1f1f" stroke-width="0.2" textLength="50.90" lengthAdjust="spacingAndGlyphs">Ornithischia</text>
<text x="214.80" y="322.70" font-size="10.3" fill="#1f1f1f" stroke="#1f1f1f" stroke-width="0.2" textLength="56.00" lengthAdjust="spacingAndGlyphs">Lagerpetidae</text>
<text x="117.40" y="342.50" font-size="10.3" fill="#1f1f1f" stroke="#1f1f1f" stroke-width="0.2" textLength="59.00" lengthAdjust="spacingAndGlyphs">Aphanosauria</text>
<g fill="#1c1c1c" stroke="#1c1c1c" stroke-width="0.35" stroke-linejoin="round"><path d="M138.60 70.10 L131.00 62.00 L125.00 54.00 L121.75 47.00 L122.60 42.00 L127.00 37.00 L133.00 33.50 L140.00 31.00 L149.25 28.90 L161.75 27.60 L170.00 27.30 L178.00 28.00 L187.30 32.00 L196.70 39.30 L204.70 41.30 L214.00 39.30 L220.70 39.30 L226.00 43.30 L229.30 48.00 L228.00 50.00 L223.30 47.30 L214.00 47.30 L207.00 49.50 L203.20 53.50 L200.50 57.60 L201.20 67.10 L203.20 73.20 L204.60 75.90 L196.50 75.50 L197.10 73.20 L197.80 67.10 L197.10 59.00 L195.10 56.90 L191.70 57.60 L189.70 60.30 L191.00 65.70 L192.40 71.80 L190.40 74.50 L187.70 73.90 L189.70 70.50 L187.00 65.70 L184.30 58.30 L178.90 56.20 L174.80 57.60 L174.10 62.30 L176.80 68.40 L181.60 73.20 L181.60 75.50 L178.20 74.50 L174.80 71.10 L169.40 64.40 L168.70 57.60 L168.00 51.50 L165.30 53.50 L159.90 60.30 L155.80 66.40 L156.50 72.50 L161.20 74.90 L159.90 75.90 L152.40 74.50 L151.10 71.10 L150.40 65.00 L152.40 60.30 L154.50 52.20 L155.80 45.40 L146.75 44.25 L136.75 44.25 L129.90 44.90 L126.75 47.60 L128.00 53.25 L134.25 63.25Z"/><path d="M367.50 187.75 L375.00 186.90 L383.75 189.50 L396.25 193.30 L405.00 194.60 L416.70 194.40 L425.00 193.80 L433.00 193.60 L441.70 194.20 L448.30 195.60 L453.30 195.50 L458.00 193.50 L462.00 192.20 L466.70 192.30 L470.00 193.50 L473.50 195.50 L472.50 197.00 L467.50 197.30 L466.00 198.20 L473.00 200.50 L472.00 201.30 L466.70 200.50 L461.00 199.80 L456.50 200.60 L452.00 202.50 L448.30 205.00 L445.60 207.00 L446.00 210.00 L447.50 212.30 L446.30 213.50 L444.50 212.20 L443.00 209.50 L441.50 207.50 L437.00 207.30 L433.30 207.50 L431.60 209.50 L431.60 214.70 L435.20 218.30 L438.30 221.30 L436.25 221.60 L432.60 218.90 L429.30 215.20 L428.70 210.00 L425.30 209.30 L421.10 211.80 L418.30 215.50 L418.20 219.60 L419.80 222.00 L416.00 222.20 L415.30 219.40 L416.30 215.00 L418.50 211.00 L420.60 207.50 L418.50 204.50 L415.40 201.80 L405.00 199.00 L396.00 196.30 L388.00 192.60 L377.50 188.30Z"/><path d="M257.00 272.40 L264.00 272.80 L270.00 273.70 L280.40 276.30 L290.80 276.90 L301.25 276.90 L305.40 276.10 L309.60 276.90 L313.75 278.40 L314.30 279.50 L310.60 279.70 L304.40 278.90 L301.25 281.50 L300.20 283.60 L299.90 285.00 L300.20 287.30 L301.25 288.30 L299.70 288.50 L297.60 285.20 L297.00 284.50 L294.00 283.90 L290.80 284.70 L291.90 287.30 L292.90 288.50 L290.80 288.00 L288.20 285.00 L285.60 283.90 L281.50 284.50 L280.00 286.50 L280.40 288.30 L281.00 289.40 L279.90 289.60 L278.30 288.80 L278.10 286.20 L280.00 283.30 L285.00 281.30 L285.60 279.80 L276.25 276.00 L270.00 274.80 L264.00 273.50Z"/><path d="M353.00 275.00 L354.60 274.79 L356.20 274.57 L357.80 274.36 L359.40 274.15 L361.00 273.93 L362.60 273.75 L364.20 272.70 L365.80 273.45 L367.40 272.41 L369.00 273.16 L370.60 272.12 L372.20 272.90 L373.80 271.89 L375.40 272.67 L377.00 271.66 L378.60 272.44 L380.20 271.43 L381.80 272.21 L383.40 271.27 L385.00 272.13 L386.60 271.19 L388.20 272.06 L389.80 271.12 L391.40 271.98 L393.00 271.05 L394.60 271.91 L396.20 270.74 L397.80 271.28 L399.40 270.03 L401.00 270.58 L402.60 269.33 L404.20 269.97 L405.80 268.80 L407.40 269.43 L409.00 268.27 L410.60 268.98 L412.20 268.05 L413.80 268.90 L415.40 267.96 L417.00 268.82 L418.60 267.88 L420.20 268.77 L421.80 268.03 L423.40 269.09 L425.00 268.35 L426.60 269.41 L428.20 268.67 L429.80 269.73 L431.40 269.25 L433.00 270.61 L434.60 270.17 L436.20 271.53 L445.00 274.75 L449.00 274.50 L452.50 272.50 L456.50 271.80 L460.00 273.00 L462.00 274.60 L459.00 275.50 L456.25 276.20 L450.00 278.10 L445.00 281.25 L443.75 282.50 L441.25 286.25 L443.10 289.40 L445.60 291.25 L446.25 293.10 L444.40 292.50 L441.25 290.00 L439.40 288.10 L438.10 286.50 L433.75 287.00 L431.25 291.90 L430.60 295.00 L432.50 296.25 L430.00 296.50 L428.75 293.75 L430.00 288.75 L432.50 285.30 L426.25 285.20 L417.50 285.20 L416.25 286.90 L418.75 291.25 L420.60 292.50 L418.75 293.30 L416.25 290.00 L413.75 288.30 L410.60 290.60 L408.75 293.75 L409.40 295.60 L411.25 296.25 L408.10 296.50 L406.90 293.75 L408.75 289.40 L411.25 286.90 L412.50 285.00 L407.50 281.25 L401.25 277.50 L395.00 275.60 L382.00 276.50 L370.80 276.00 L362.00 275.80Z"/><path d="M186.50 304.40 L192.30 304.90 L196.50 305.60 L204.80 305.90 L211.50 305.90 L215.70 304.90 L219.00 305.00 L220.50 305.80 L218.20 306.40 L214.00 306.90 L211.50 307.90 L210.90 309.20 L211.00 312.90 L209.60 312.90 L209.20 309.40 L207.30 308.50 L206.00 309.40 L205.20 312.30 L206.20 314.40 L207.20 316.30 L205.60 316.40 L204.20 314.00 L202.50 314.80 L201.00 316.70 L201.20 318.00 L200.00 318.00 L199.60 315.80 L201.80 313.10 L203.50 311.50 L203.80 308.50 L196.50 306.90 L190.70 305.50Z"/><path d="M60.10 329.50 L70.00 329.10 L82.50 327.90 L95.00 326.60 L103.75 326.00 L110.00 324.80 L113.75 323.30 L117.50 322.70 L120.50 324.10 L122.00 327.40 L118.75 326.75 L115.50 326.50 L113.50 327.60 L111.25 329.90 L109.60 332.20 L110.20 334.25 L112.20 336.90 L110.00 337.00 L107.50 333.80 L103.75 333.20 L102.60 335.50 L103.90 338.70 L101.20 338.80 L100.00 334.40 L97.50 333.20 L91.25 332.60 L88.40 335.50 L89.00 338.20 L86.80 338.20 L86.10 334.90 L89.20 331.20 L82.50 330.60 L70.00 330.40Z"/></g>
</svg></body></html>
